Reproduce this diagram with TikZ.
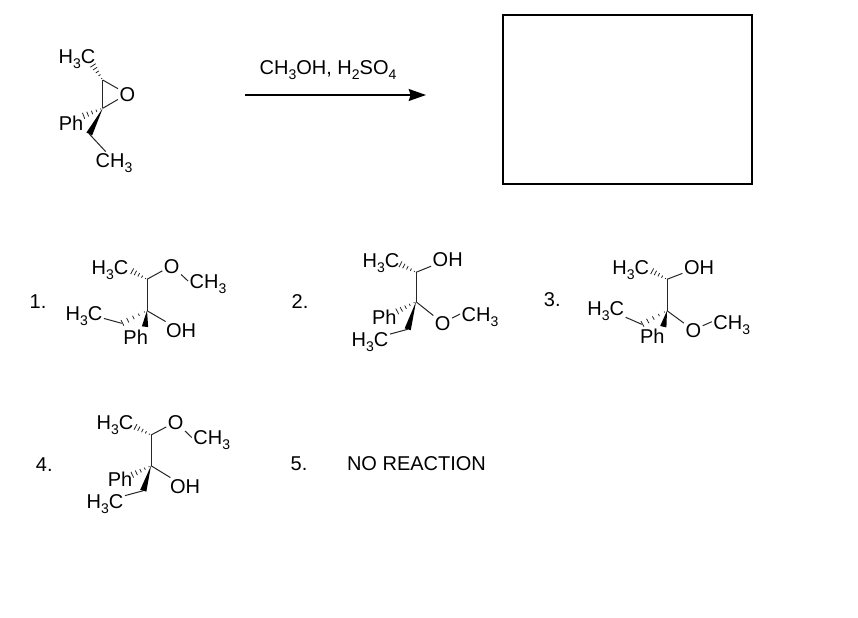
\documentclass[tikz,border=0pt]{standalone}
\usepackage{fontspec}
\setmainfont{Liberation Sans}
\usetikzlibrary{calc,arrows.meta}
\newcommand{\atomsub}[1]{\raisebox{-0.25em}{\fontsize{10.5}{12}\selectfont #1}}
\def\hashbond(#1)(#2){\foreach \t/\w in {0.1/0.4,0.32/0.9,0.54/1.4,0.76/1.9,0.97/2.4}{\draw[hashline] ($(#1)!\t!(#2)!\w pt!90:(#2)$) -- ($(#1)!\t!(#2)!\w pt!-90:(#2)$);}}
\def\wedgebond(#1)(#2){\fill ($(#1)$) -- ($(#2)!2.4pt!90:(#1)$) -- ($(#2)!2.4pt!-90:(#1)$) -- cycle;}
\tikzset{
	atom/.style={inner sep=1pt, text height=11pt, text depth=0pt, font=\fontsize{15}{18}\selectfont},
	plain/.style={inner sep=0pt, font=\fontsize{15}{18}\selectfont},
	bond/.style={line width=0.75pt, color=black!85},
	hashline/.style={line width=0.6pt, color=black!85},
}
\begin{document}
\begin{tikzpicture}[x=0.75pt, y=-0.75pt]
	\useasboundingbox (0, 0) rectangle (858, 618);
	
	%%%%% REACTANT %%%%%
	\coordinate (ca) at (102.7, 80);
	\coordinate (cb) at (102.7, 108.3);
	\coordinate (ha) at (92.7, 65);
	\coordinate (ph0) at (83, 116);
	\coordinate (wa) at (89.3, 134);
	\node[atom] (h3ca) at (77, 56) {H\atomsub{3}C};
	\node[atom] (oa) at (127.3, 94) {O};
	\node[atom] (pha) at (71, 123.5) {Ph};
	\node[atom] (ch3a) at (114, 160.5) {CH\atomsub{3}};
	\draw[bond] (ca) -- (cb);
	\draw[bond] (ca) -- (oa);
	\draw[bond] (cb) -- (oa);
	\hashbond(ca)(ha)
	\hashbond(cb)(ph0)
	\wedgebond(cb)(wa)
	\draw[bond] (wa) -- (ch3a);
	
	%%%%% ARROW AND BOX %%%%%
	\coordinate (arrowl) at (245, 95);
	\coordinate (arrowr) at (426, 95);
	\draw[line width=1.1pt, -{Stealth[length=13pt, width=9pt, inset=1.5pt]}] (arrowl) -- (arrowr);
	\node[plain] (reagent) at (328, 70) {CH\atomsub{3}OH, H\atomsub{2}SO\atomsub{4}};
	\draw[line width=1.5pt] (503, 15) rectangle (752, 184);
	
	%%%%% ANSWER 1 %%%%%
	\node[plain] (lab1) at (38, 302) {1.};
	\coordinate (c1t) at (147, 279.3);
	\coordinate (c1b) at (147, 310.7);
	\coordinate (hash1a) at (131.7, 271);
	\coordinate (v1) at (121.7, 323.3);
	\coordinate (w1) at (145, 326.7);
	\node[atom] (h3c1a) at (110, 267) {H\atomsub{3}C};
	\node[atom] (o1) at (171.7, 265.7) {O};
	\node[atom] (ch31) at (208, 281) {CH\atomsub{3}};
	\node[atom] (h3c1b) at (84, 313) {H\atomsub{3}C};
	\node[atom] (ph1) at (135.7, 337) {Ph};
	\node[atom] (oh1) at (181, 330.5) {OH};
	\draw[bond] (c1t) -- (c1b);
	\draw[bond] (c1t) -- (o1);
	\draw[bond] (o1) -- (ch31.west);
	\draw[bond] (c1b) -- (oh1);
	\draw[bond] (v1) -- (h3c1b);
	\hashbond(c1t)(hash1a)
	\hashbond(c1b)(v1)
	\wedgebond(c1b)(w1)
	
	%%%%% ANSWER 2 %%%%%
	\node[plain] (lab2) at (300, 302) {2.};
	\coordinate (c2t) at (416, 272.3);
	\coordinate (c2b) at (416, 301.7);
	\coordinate (hash2a) at (400, 264);
	\coordinate (hash2b) at (396.7, 311.7);
	\coordinate (w2) at (407.7, 329.3);
	\node[atom] (h3c2a) at (381, 260) {H\atomsub{3}C};
	\node[atom] (oh2) at (447.7, 259.5) {OH};
	\node[atom] (o2) at (442.7, 323) {O};
	\node[atom] (ch32) at (480, 314) {CH\atomsub{3}};
	\node[atom] (ph2) at (384.3, 317) {Ph};
	\node[atom] (h3c2b) at (370, 339.5) {H\atomsub{3}C};
	\draw[bond] (c2t) -- (c2b);
	\draw[bond] (c2t) -- (oh2);
	\draw[bond] (c2b) -- (o2);
	\draw[bond] (o2) -- (ch32.west);
	\draw[bond] (w2) -- (h3c2b);
	\hashbond(c2t)(hash2a)
	\hashbond(c2b)(hash2b)
	\wedgebond(c2b)(w2)
	
	%%%%% ANSWER 3 %%%%%
	\node[plain] (lab3) at (552.3, 300) {3.};
	\coordinate (c3t) at (667, 279.3);
	\coordinate (c3b) at (667, 310.7);
	\coordinate (hash3a) at (651.7, 271);
	\coordinate (v3) at (641.7, 324.3);
	\coordinate (w3) at (663.3, 326.7);
	\node[atom] (h3c3a) at (630.7, 267) {H\atomsub{3}C};
	\node[atom] (oh3) at (699, 267) {OH};
	\node[atom] (o3) at (693.3, 330) {O};
	\node[atom] (ch33) at (731.7, 321.7) {CH\atomsub{3}};
	\node[atom] (h3c3b) at (605.7, 308.5) {H\atomsub{3}C};
	\node[atom] (ph3) at (652.3, 336) {Ph};
	\draw[bond] (c3t) -- (c3b);
	\draw[bond] (c3t) -- (oh3);
	\draw[bond] (c3b) -- (o3);
	\draw[bond] (o3) -- (ch33.west);
	\draw[bond] (v3) -- (h3c3b);
	\hashbond(c3t)(hash3a)
	\hashbond(c3b)(v3)
	\wedgebond(c3b)(w3)
	
	%%%%% ANSWER 4 %%%%%
	\node[plain] (lab4) at (44.3, 465) {4.};
	\coordinate (c4t) at (151, 435);
	\coordinate (c4b) at (151, 465.7);
	\coordinate (hash4a) at (135, 426.7);
	\coordinate (hash4b) at (131.7, 475);
	\coordinate (w4) at (143.3, 490.7);
	\node[atom] (h3c4a) at (115, 422) {H\atomsub{3}C};
	\node[atom] (o4) at (175.7, 422) {O};
	\node[atom] (ch34) at (211.7, 437.5) {CH\atomsub{3}};
	\node[atom] (oh4) at (185, 486.5) {OH};
	\node[atom] (ph4) at (120, 479) {Ph};
	\node[atom] (h3c4b) at (105, 501) {H\atomsub{3}C};
	\draw[bond] (c4t) -- (c4b);
	\draw[bond] (c4t) -- (o4);
	\draw[bond] (o4) -- (ch34.west);
	\draw[bond] (c4b) -- (oh4);
	\draw[bond] (w4) -- (h3c4b);
	\hashbond(c4t)(hash4a)
	\hashbond(c4b)(hash4b)
	\wedgebond(c4b)(w4)
	
	%%%%% ANSWER 5 %%%%%
	\node[plain] (lab5) at (299, 464) {5.};
	\node[plain] (noreact) at (416.5, 464) {NO REACTION};
\end{tikzpicture}
\end{document}
